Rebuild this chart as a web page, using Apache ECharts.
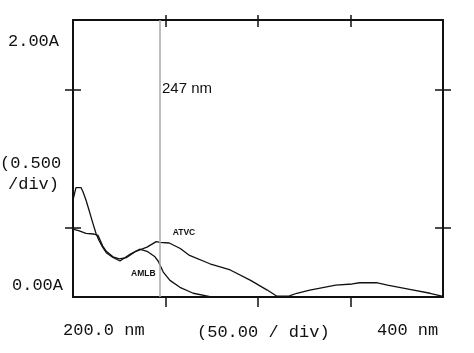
<!DOCTYPE html>
<html>
<head>
<meta charset="utf-8">
<script src="https://cdn.jsdelivr.net/npm/echarts@6/dist/echarts.min.js"></script>
<style>html,body{margin:0;padding:0;background:#fff}#c{width:474px;height:353px}</style>
</head>
<body>
<div id="c"></div>
<script>
// wavelength range (nm) and absorbance range (A)
var xMin = 200, xMax = 400, xStep = 50;
var yMin = 0, yMax = 2.0;
var xTickValues = [250, 300, 350];
var yTickValues = [0.5, 1.5];
var markerWavelength = 247;

// ATVC spectrum [nm, A]
var atvc = [[200,0.49],[203,0.48],[207,0.46],[211,0.455],[213.5,0.445],[215,0.40],[216,0.37],[218,0.33],[221.6,0.29],[225,0.275],[229,0.285],[234,0.33],[240,0.36],[245,0.40],[247,0.395],[252,0.39],[258,0.35],[263,0.30],[274,0.24],[285,0.195],[296,0.12],[305,0.05],[310,0.007],[317,0.008],[321,0.027],[328,0.05],[342,0.086],[351,0.094],[355,0.103],[364,0.103],[370,0.086],[382,0.055],[393,0.027],[400,0.005]];

// AMLB spectrum [nm, A]
var amlb = [[200,0.70],[201.6,0.79],[204.3,0.79],[205.4,0.76],[207,0.70],[208.6,0.63],[210.8,0.53],[212.4,0.46],[214,0.41],[216,0.36],[218,0.32],[221.6,0.285],[225.4,0.26],[231,0.31],[236,0.345],[240,0.33],[244.3,0.29],[246,0.26],[248.8,0.18],[252.4,0.12],[257.8,0.07],[265,0.027],[274,0.003],[280,0],[400,0]];

// series label anchor points [nm, A]
var atvcLabelAt = [260, 0.468];
var amlbLabelAt = [238, 0.166];

var mono = '"Liberation Mono", "DejaVu Sans Mono", monospace';
var ink = '#111';

var chart = echarts.init(document.getElementById('c'), null, {renderer:'canvas'});

function xAx(pos, inside, len, showLine) {
  return {type:'value', position:pos, min:xMin, max:xMax, interval:xStep,
    axisLine:{show:showLine, onZero:false, lineStyle:{color:ink, width:2}},
    axisTick:{show:true, inside:inside, length:len, customValues:xTickValues, lineStyle:{color:ink, width:1.5}},
    axisLabel:{show:false}, splitLine:{show:false}};
}
function yAx(pos, inside, len, showLine) {
  return {type:'value', position:pos, min:yMin, max:yMax, interval:0.5,
    axisLine:{show:showLine, onZero:false, lineStyle:{color:ink, width:2}},
    axisTick:{show:true, inside:inside, length:len, customValues:yTickValues, lineStyle:{color:ink, width:1.5}},
    axisLabel:{show:false}, splitLine:{show:false}};
}

function txt(x, y, s, extra) {
  var st = {text:s, x:x, y:y, fill:ink, font:'17px ' + mono, textVerticalAlign:'middle'};
  for (var k in extra) st[k] = extra[k];
  return {type:'text', style:st, silent:true};
}

chart.setOption({
  animation:false,
  backgroundColor:'#fff',
  grid:{left:73, right:31, top:20, bottom:56},
  xAxis:[xAx('bottom', false, 10, true), xAx('top', false, 5, true), xAx('top', true, 7, false)],
  yAxis:[yAx('left', false, 8, true), yAx('left', true, 8, false), yAx('right', false, 8, true), yAx('right', true, 8, false)],
  series:[
    {name:'ATVC', type:'line', data:atvc, symbol:'none', xAxisIndex:0, yAxisIndex:0,
      lineStyle:{color:ink, width:1.3}, z:3,
      markLine:{silent:true, symbol:'none', label:{show:false},
        lineStyle:{color:'#aaa', type:'solid', width:1.5}, data:[{xAxis:markerWavelength}]},
      markPoint:{silent:true, symbol:'circle', symbolSize:0,
        label:{show:true, position:'inside', formatter:'ATVC', color:ink, fontSize:8.5, fontWeight:'bold', fontFamily:'"Liberation Sans", Arial, sans-serif'},
        data:[{coord:atvcLabelAt}]}},
    {name:'AMLB', type:'line', data:amlb, symbol:'none', xAxisIndex:0, yAxisIndex:0,
      lineStyle:{color:ink, width:1.3}, z:3,
      markPoint:{silent:true, symbol:'circle', symbolSize:0,
        label:{show:true, position:'inside', formatter:'AMLB', color:ink, fontSize:8.5, fontWeight:'bold', fontFamily:'"Liberation Sans", Arial, sans-serif'},
        data:[{coord:amlbLabelAt}]}}
  ],
  graphic:[
    txt(8, 41, '2.00A'),
    txt(0, 163, '(0.500'),
    txt(8, 184, '/div)'),
    txt(12, 285, '0.00A'),
    txt(63, 330, '200.0 nm'),
    txt(197, 332, '(50.00 / div)'),
    txt(377, 330, '400 nm'),
    {type:'text', silent:true, style:{text:'247 nm', x:162, y:89, fill:ink, font:'15px "Liberation Sans", Arial, sans-serif', textVerticalAlign:'middle'}}
  ]
});
</script>
</body>
</html>
